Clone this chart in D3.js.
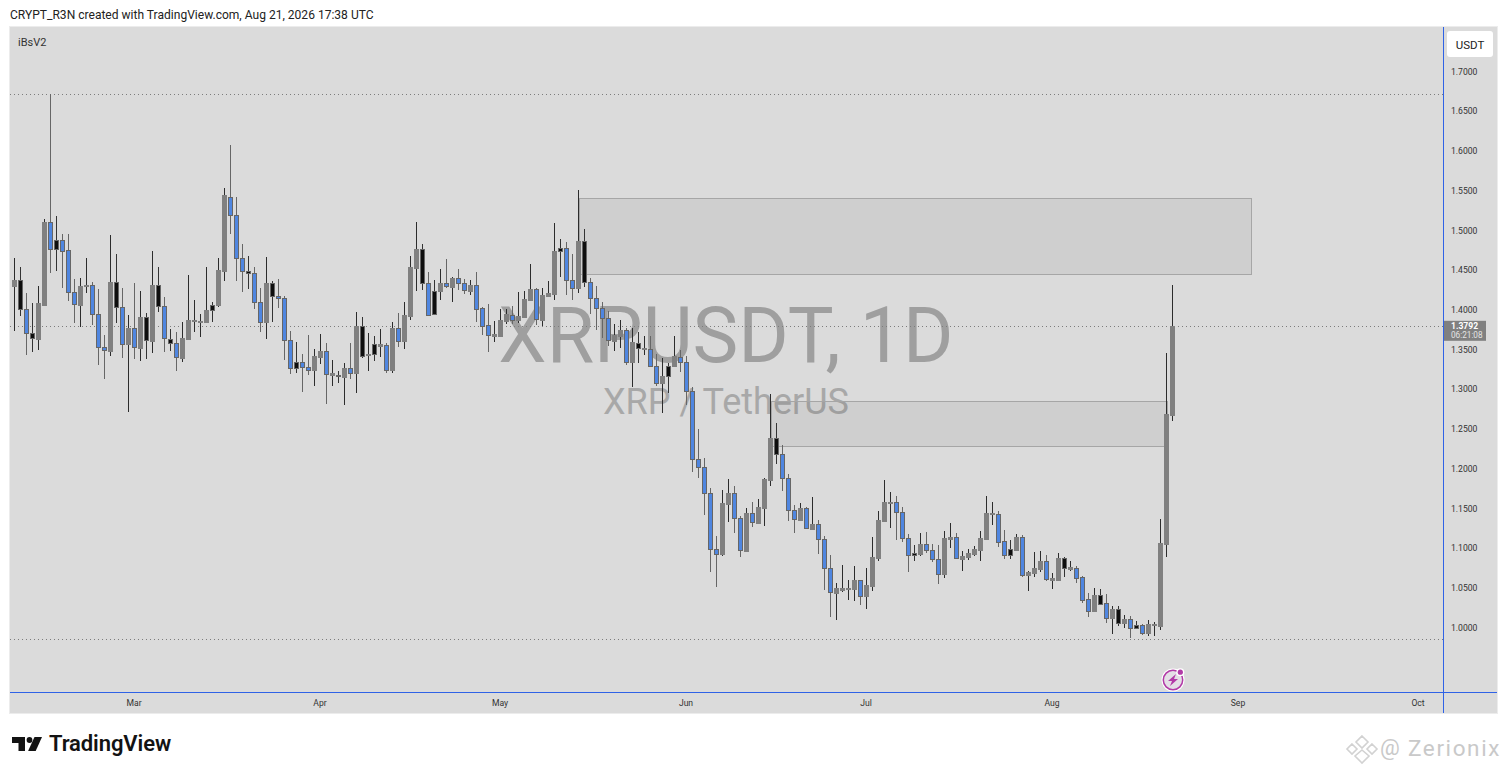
<!DOCTYPE html>
<html><head><meta charset="utf-8">
<script src="https://cdnjs.cloudflare.com/ajax/libs/d3/7.8.5/d3.min.js"></script>
<style>html,body{margin:0;padding:0;background:#fff;overflow:hidden}svg{display:block}text{font-family:Roboto,"Liberation Sans",sans-serif}</style>
</head><body><svg id="c" width="1507" height="774"></svg>
<script>
const firstDay = "2026-02-09";
// u = rising (grey), d = falling (blue), b = marked bar (black)
const kinds = ("ubdbuudbdd"+"duudddubdu"+"dububdbduu"+"uuubuudddb"+"ddubdddbdd"+"uudubudubu"+"bududuuubd"+"bududduddd"+"uuuduuuduu"+"ubddubdddd"+"uudubuddub"+"uddddddduu"+"dduduuubdd"+"dududdduuu"+"uduuuuuddd"+"buddduuduu"+"uuuuddbudu"+"uuduubuddd"+"ubdubudbdu"+"uuuu").split("");
const highs = [1.4650,1.4532,1.4201,1.4075,1.4293,1.5132,1.6706,1.5174,1.4948,1.4948,
1.4377,1.4390,1.4646,1.4339,1.4251,1.3676,1.4935,1.4696,1.4264,1.3928,
1.4327,1.4230,1.3949,1.4730,1.4532,1.4150,1.3752,1.3718,1.3836,1.4427,
1.4117,1.3941,1.4532,1.4092,1.4646,1.5527,1.6064,1.5414,1.4822,1.4671,
1.4532,1.4268,1.4658,1.4356,1.4381,1.4171,1.3727,1.3588,1.3437,1.3676,
1.3500,1.3689,1.3575,1.3357,1.3223,1.3324,1.3575,1.3966,1.3903,1.3701,
1.3664,1.3752,1.3571,1.3836,1.3949,1.4092,1.4671,1.5095,1.4818,1.4465,
1.4369,1.4507,1.4629,1.4402,1.4507,1.4381,1.4369,1.4465,1.4033,1.4062,
1.3852,1.3999,1.3999,1.4041,1.4218,1.4230,1.4566,1.4264,1.4268,1.4352,
1.5086,1.4881,1.4847,1.4696,1.5502,1.5006,1.4390,1.4293,1.4092,1.3978,
1.3815,1.3865,1.3760,1.3760,1.3710,1.3664,1.3664,1.3437,1.3387,1.3328,
1.3664,1.3487,1.3412,1.3026,1.2489,1.2123,1.1746,1.1146,1.1725,1.1863,
1.1771,1.1397,1.1494,1.1574,1.1611,1.1876,1.2933,1.2568,1.2287,1.1926,
1.1532,1.1557,1.1507,1.1632,1.1347,1.1146,1.0902,1.0554,1.0781,1.0592,
1.0764,1.0588,1.0743,1.1133,1.1460,1.1851,1.1700,1.1645,1.1511,1.1167,
1.1032,1.1179,1.1196,1.1045,1.1032,1.1209,1.1309,1.1179,1.0957,1.0982,
1.1020,1.1209,1.1649,1.1574,1.1456,1.1221,1.1095,1.1167,1.1154,1.0705,
1.0944,1.0957,1.0906,1.0680,1.0927,1.0877,1.0831,1.0768,1.0638,1.0428,
1.0491,1.0478,1.0415,1.0264,1.0264,1.0151,1.0138,1.0076,1.0038,1.0088,
1.0063,1.1360,1.3450,1.4306];
const bodyTops = [1.4369,1.4364,1.3999,1.3697,1.4075,1.5095,1.5095,1.4868,1.4868,1.4742,
1.4213,1.4293,1.4306,1.4301,1.3936,1.3521,1.4343,1.4339,1.4024,1.3760,
1.3760,1.3899,1.3899,1.4306,1.4301,1.4037,1.3630,1.3571,1.3634,1.3861,
1.3861,1.3848,1.3991,1.4058,1.4490,1.5435,1.5418,1.5183,1.4641,1.4478,
1.4453,1.4087,1.4327,1.4327,1.4163,1.4138,1.3609,1.3332,1.3332,1.3278,
1.3408,1.3471,1.3471,1.3194,1.3177,1.3257,1.3257,1.3790,1.3785,1.3437,
1.3559,1.3563,1.3546,1.3760,1.3760,1.3928,1.4528,1.4755,1.4755,1.4327,
1.4234,1.4331,1.4335,1.4390,1.4390,1.4327,1.4301,1.4301,1.4012,1.3798,
1.3689,1.3861,1.3936,1.3932,1.3915,1.4129,1.4251,1.4251,1.4176,1.4201,
1.4734,1.4776,1.4776,1.4364,1.4860,1.4855,1.4339,1.4138,1.4012,1.3894,
1.3680,1.3735,1.3735,1.3584,1.3580,1.3513,1.3496,1.3290,1.3156,1.3290,
1.3408,1.3403,1.3332,1.2967,1.2111,1.2010,1.1683,1.0978,1.1557,1.1683,
1.1683,1.1368,1.1431,1.1431,1.1511,1.1863,1.2379,1.2375,1.2174,1.1872,
1.1469,1.1494,1.1494,1.1293,1.1293,1.1104,1.0739,1.0487,1.0487,1.0487,
1.0588,1.0588,1.0525,1.0877,1.1343,1.1570,1.1570,1.1570,1.1444,1.1116,
1.0927,1.1041,1.1041,1.0965,1.0852,1.1116,1.1129,1.1129,1.0890,1.0927,
1.0982,1.1116,1.1435,1.1431,1.1418,1.1079,1.0978,1.1129,1.1129,1.0688,
1.0743,1.0831,1.0827,1.0617,1.0869,1.0864,1.0751,1.0739,1.0625,1.0348,
1.0399,1.0399,1.0298,1.0227,1.0222,1.0101,1.0101,1.0025,1.0025,1.0038,
1.0038,1.1058,1.2682,1.3792];
const bodyBottoms = [1.4297,1.3999,1.3697,1.3634,1.3630,1.4058,1.4755,1.4755,1.4738,1.4213,
1.4062,1.4058,1.4297,1.3936,1.3521,1.3483,1.3479,1.4024,1.3559,1.3559,
1.3521,1.3517,1.3609,1.3605,1.4037,1.3634,1.3571,1.3395,1.3391,1.3630,
1.3848,1.3844,1.3844,1.3991,1.4058,1.4486,1.5183,1.4641,1.4478,1.4453,
1.4087,1.3844,1.3844,1.4163,1.4138,1.3609,1.3257,1.3257,1.3278,1.3240,
1.3240,1.3403,1.3189,1.3177,1.3156,1.3152,1.3202,1.3202,1.3416,1.3424,
1.3433,1.3542,1.3240,1.3236,1.3605,1.3605,1.3920,1.4524,1.4327,1.3932,
1.3936,1.4234,1.4289,1.4285,1.4327,1.4239,1.4234,1.3999,1.3794,1.3680,
1.3668,1.3668,1.3857,1.3869,1.3865,1.3903,1.4117,1.3873,1.3865,1.4167,
1.4192,1.4730,1.4364,1.4272,1.4268,1.4339,1.4138,1.4012,1.3894,1.3609,
1.3605,1.3664,1.3340,1.3340,1.3508,1.3500,1.3290,1.3076,1.3076,1.3156,
1.3290,1.3332,1.2967,1.2111,1.2010,1.1683,1.0978,1.0923,1.0923,1.1549,
1.1368,1.0965,1.0961,1.1318,1.1309,1.1502,1.1855,1.2174,1.1872,1.1469,
1.1355,1.1351,1.1242,1.1238,1.1104,1.0739,1.0436,1.0432,1.0470,1.0478,
1.0483,1.0394,1.0394,1.0520,1.0873,1.1339,1.1561,1.1444,1.1116,1.0902,
1.0902,1.0923,1.0965,1.0852,1.0671,1.0671,1.1112,1.0864,1.0860,1.0885,
1.0923,1.0974,1.1108,1.1418,1.1074,1.0911,1.0911,1.0974,1.0659,1.0655,
1.0680,1.0734,1.0608,1.0596,1.0592,1.0747,1.0730,1.0621,1.0344,1.0206,
1.0201,1.0294,1.0118,1.0113,1.0055,1.0050,0.9992,0.9992,0.9929,0.9924,
1.0025,1.0013,1.1045,1.2673];
const lows = [1.3731,1.3920,1.3429,1.3466,1.3487,1.4058,1.4461,1.4486,1.4272,1.4108,
1.3831,1.3781,1.4209,1.3802,1.3303,1.3126,1.3416,1.3831,1.3391,1.2711,
1.3378,1.3353,1.3378,1.3454,1.3970,1.3466,1.3479,1.3227,1.3340,1.3613,
1.3718,1.3655,1.3831,1.3844,1.4033,1.4360,1.4952,1.4360,1.4222,1.4251,
1.4008,1.3718,1.3630,1.3844,1.4020,1.3366,1.3189,1.3202,1.2963,1.3173,
1.3038,1.3311,1.2812,1.3038,1.3076,1.2795,1.3122,1.2950,1.3391,1.3223,
1.3349,1.3403,1.3198,1.3202,1.3529,1.3504,1.3865,1.4230,1.4243,1.3920,
1.3932,1.4117,1.4272,1.4096,1.4243,1.4192,1.4180,1.3840,1.3676,1.3462,
1.3588,1.3651,1.3815,1.3819,1.3823,1.3903,1.4117,1.3798,1.3790,1.4167,
1.4117,1.4411,1.4180,1.4117,1.4209,1.4276,1.3945,1.3739,1.3643,1.3542,
1.3475,1.3508,1.3299,1.3026,1.3324,1.3424,1.3278,1.3034,1.2690,1.2942,
1.3290,1.3210,1.2799,1.1956,1.1880,1.1414,1.0697,1.0508,1.0898,1.1326,
1.1188,1.0885,1.0961,1.1263,1.1297,1.1272,1.1775,1.2052,1.1716,1.1339,
1.1188,1.1351,1.1230,1.1221,1.0923,1.0466,1.0130,1.0092,1.0445,1.0344,
1.0332,1.0281,1.0231,1.0457,1.0835,1.1322,1.1246,1.1099,1.1074,1.0697,
1.0835,1.0898,1.0927,1.0823,1.0541,1.0621,1.0995,1.0864,1.0705,1.0844,
1.0894,1.0831,1.1108,1.1284,1.1007,1.0856,1.0856,1.0957,1.0629,1.0453,
1.0629,1.0692,1.0579,1.0478,1.0592,1.0629,1.0705,1.0554,1.0302,1.0126,
1.0201,1.0277,1.0050,0.9912,1.0013,0.9987,0.9857,0.9987,0.9899,0.9887,
0.9887,0.9962,1.0881,1.2597];
const priceTicks = [1.70,1.65,1.60,1.55,1.50,1.45,1.40,1.35,1.30,1.25,1.20,1.15,1.10,1.05,1.00];
const monthTicks = ["2026-03-01","2026-04-01","2026-05-01","2026-06-01","2026-07-01","2026-08-01","2026-09-01","2026-10-01"];
const monthNames = ["Mar","Apr","May","Jun","Jul","Aug","Sep","Oct"];
const levels = [1.6710,1.3792,0.9850];
const zoneStarts = ["2026-05-14","2026-06-15"];
const zoneEnds = ["2026-09-03","2026-08-20"];
const zoneTops = [1.5401,1.2845];
const zoneBottoms = [1.4444,1.2279];
const lastPrice = "1.3792", countdown = "06:21:08";

const svg = d3.select("#c");
const parse = d3.utcParse("%Y-%m-%d");
const day0 = parse(firstDay);
const dates = kinds.map((_, i) => d3.utcDay.offset(day0, i));
const x = d3.scaleUtc().domain([day0, d3.utcDay.offset(day0, 234)]).range([14.5, 14.5 + 6 * 234]);
const y = d3.scaleLinear().domain([1, 1.7]).range([627, 71]);
const PL = 10, PT = 27, PR = 1497, PB = 713, AX = 1443, AY = 692;

svg.append("rect").attr("x", PL - .5).attr("y", PT - .5).attr("width", PR - PL + 1).attr("height", PB - PT + 1)
  .attr("fill", "#dbdbdb").attr("stroke", "#ececec");

svg.append("text").attr("x", 10).attr("y", 18.5).attr("font-size", 12.05).attr("fill", "#222")
  .text("CRYPT_R3N created with TradingView.com, Aug 21, 2026 17:38 UTC");
svg.append("text").attr("x", 18).attr("y", 45.5).attr("font-size", 11).attr("fill", "#333").text("iBsV2");

// watermark
svg.append("text").attr("x", 726).attr("y", 362).attr("text-anchor", "middle").attr("font-size", 77)
  .attr("font-family", "'Open Sans',sans-serif").attr("fill", "#9f9f9f").text("XRPUSDT, 1D");
svg.append("text").attr("x", 726).attr("y", 414).attr("text-anchor", "middle").attr("font-size", 36)
  .attr("font-family", "'Open Sans',sans-serif").attr("fill", "#a8a8a8").text("XRP / TetherUS");

// level lines
svg.append("g").selectAll("line").data(levels).join("line")
  .attr("x1", PL).attr("x2", AX)
  .attr("y1", d => Math.round(y(d)) + .5).attr("y2", d => Math.round(y(d)) + .5)
  .attr("stroke", "#7c7c7c").attr("stroke-dasharray", "1 3");

// zones
svg.append("g").selectAll("rect").data(zoneTops).join("rect")
  .attr("x", (d, i) => Math.round(x(parse(zoneStarts[i]))) + .5)
  .attr("y", d => Math.round(y(d)) + .5)
  .attr("width", (d, i) => Math.round(x(parse(zoneEnds[i])) - x(parse(zoneStarts[i]))))
  .attr("height", (d, i) => Math.round(y(zoneBottoms[i]) - y(d)))
  .attr("fill", "rgba(0,0,0,.05)").attr("stroke", "#a6a6a6");

// candles
const wickCol = { u: "#2c2c2c", d: "#666", b: "#333" };
const fillCol = { u: "#808080", d: "#4f86e0", b: "#0e0e0e" };
const edgeCol = { u: "#808080", d: "#666", b: "#666" };
const g = svg.append("g").selectAll("g").data(dates).join("g")
  .attr("transform", d => `translate(${x(d)},0)`);
g.append("line").attr("y1", (d, i) => Math.round(y(highs[i]))).attr("y2", (d, i) => Math.round(y(lows[i])))
  .attr("stroke", (d, i) => wickCol[kinds[i]]);
g.append("rect").attr("x", -2)
  .attr("y", (d, i) => Math.round(y(bodyTops[i])) + .5)
  .attr("width", 4)
  .attr("height", (d, i) => Math.max(1, Math.round(y(bodyBottoms[i])) - Math.round(y(bodyTops[i]))))
  .attr("fill", (d, i) => fillCol[kinds[i]])
  .attr("stroke", (d, i) => edgeCol[kinds[i]]);

// axes lines
svg.append("line").attr("x1", AX + .5).attr("x2", AX + .5).attr("y1", PT).attr("y2", PB).attr("stroke", "#2f62e6");
svg.append("line").attr("x1", PL).attr("x2", PR).attr("y1", AY + .5).attr("y2", AY + .5).attr("stroke", "#2f62e6");

const yAxis = d3.axisRight(y).tickValues(priceTicks).tickSize(0).tickPadding(0).tickFormat(d3.format(".4f"));
const ya = svg.append("g").attr("transform", `translate(${AX + 8},0.5)`).call(yAxis);
ya.select(".domain").remove();
ya.selectAll("text").attr("font-size", 8.6).attr("fill", "#333").attr("font-family", "Roboto,sans-serif");

const xAxis = d3.axisBottom(x).tickValues(monthTicks.map(parse)).tickSize(0).tickPadding(0).tickFormat((d, i) => monthNames[i]);
const xa = svg.append("g").attr("transform", `translate(-1,${AY + 7.5})`).call(xAxis);
xa.select(".domain").remove();
xa.selectAll("text").attr("font-size", 8.6).attr("fill", "#333").attr("font-family", "Roboto,sans-serif");

// price label
const ly = y(+lastPrice);
svg.append("rect").attr("x", AX + 1).attr("y", ly - 5).attr("width", 42).attr("height", 20).attr("fill", "#808080");
svg.append("text").attr("x", AX + 8).attr("y", ly + 3.2).attr("font-size", 8.6).attr("font-weight", 700).attr("fill", "#fff").text(lastPrice);
svg.append("text").attr("x", AX + 8).attr("y", ly + 12.3).attr("font-size", 8.2).attr("fill", "#e4e4e4").text(countdown);

// USDT button
svg.append("rect").attr("x", 1447).attr("y", 31).attr("width", 46).attr("height", 26).attr("rx", 3).attr("fill", "#fff");
svg.append("text").attr("x", 1470).attr("y", 48.5).attr("text-anchor", "middle").attr("font-size", 11.5).attr("fill", "#222").text("USDT");

// bolt badge
const b = svg.append("g").attr("transform", "translate(1173,680)");
b.append("circle").attr("r", 11.5).attr("fill", "#fff");
b.append("circle").attr("r", 9.7).attr("fill", "#e4dfe6").attr("stroke", "#b23aa7").attr("stroke-width", 1.5);
b.append("path").attr("d", "M3 -6 L-5 1 L-1 1 L-3 6 L5 -1 L1 -1 Z").attr("fill", "#b23aa7");
b.append("circle").attr("cx", 7.3).attr("cy", -7.8).attr("r", 4).attr("fill", "#fff");
b.append("circle").attr("cx", 7.3).attr("cy", -7.8).attr("r", 2.6).attr("fill", "#b23aa7");

// TradingView logo
const lg = svg.append("g").attr("fill", "#131313");
lg.append("path").attr("d", "M12 737h13v14h-6.5v-8H12z");
lg.append("circle").attr("cx", 29.5).attr("cy", 740).attr("r", 2.9);
lg.append("path").attr("d", "M34.5 737H42l-6.3 14h-7.6z");
svg.append("text").attr("x", 49).attr("y", 751).attr("font-size", 22).attr("font-weight", 600)
  .attr("font-family", "Inter,Roboto,sans-serif").attr("letter-spacing", -.1).attr("fill", "#131313").text("TradingView");

// Zerionix stamp
const st = svg.append("g").attr("fill", "none").attr("stroke", "#d2d2d2").attr("stroke-width", 1.6);
st.append("path").attr("d", "M1362 736l6 6-6 6-6-6z M1352 744l5 5-5 5-5-5z M1372 744l5 5-5 5-5-5z M1362 750l7 6-7 7-7-7z");
svg.append("text").attr("x", 1380).attr("y", 755).attr("font-size", 22).attr("fill", "#c9c9c9").text("@");
svg.append("text").attr("x", 1408).attr("y", 756).attr("font-size", 22.5).attr("letter-spacing", 1.6).attr("fill", "#c9c9c9").text("Zerionix");
</script></body></html>
